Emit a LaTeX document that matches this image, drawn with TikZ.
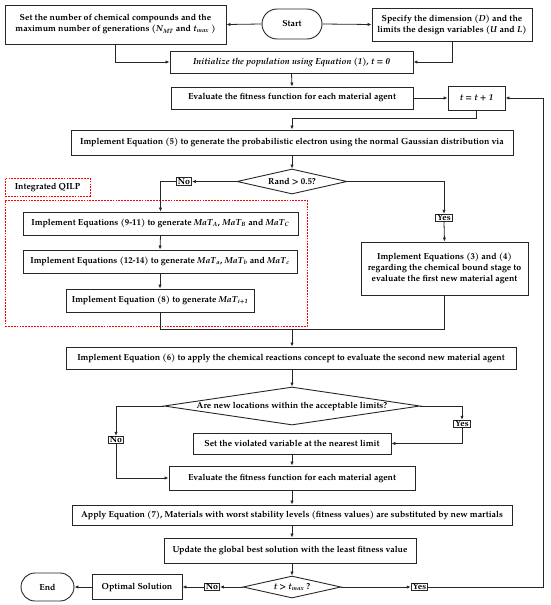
\documentclass[tikz,border=0pt]{standalone}
\usepackage{fontspec}
\setmainfont{TeX Gyre Pagella}
\usetikzlibrary{shapes.geometric,calc,arrows.meta}

\newcommand{\flowfont}{\fontsize{8.8}{11}\selectfont\bfseries}
\tikzset{
  line/.style={line width=0.8pt, black!85},
  arr/.style={line, -{Latex[length=4pt,width=3.4pt]}},
  box/.style={draw=black!85, line width=0.9pt, align=center, inner sep=1pt, font=\flowfont},
  tag/.style={draw=black!85, line width=0.9pt, inner xsep=1.5pt, inner ysep=0.6pt, font=\flowfont},
  decision/.style={diamond, draw=black!85, line width=0.9pt, inner sep=0pt, font=\flowfont},
  terminal/.style={draw=black!85, line width=0.9pt, font=\flowfont},
  qilp/.style={draw=red, line width=1pt, dash pattern=on 1.8pt off 1.1pt}
}

\begin{document}
\begin{tikzpicture}[x=1pt,y=-1pt]
  \useasboundingbox (0,0) rectangle (550,605);

  %integrated QILP zone
  \node[qilp, minimum width=302pt, minimum height=126pt] (qilpzone) at (156,263) {};
  \node[qilp, minimum width=85pt, minimum height=18pt, font=\flowfont] (qilplabel) at (47.5,187) {Integrated QILP};

  %top row
  \node[terminal, rounded corners=15pt, minimum width=60pt, minimum height=30pt] (start) at (292,24) {Start};
  \node[box, minimum width=221pt, minimum height=39pt] (setnum) at (115.5,24.5) {Set the number of chemical compounds and the\\maximum number of generations (\textit{N}\textsubscript{\textit{MT}} and \textit{t}\textsubscript{\textit{max}} )};
  \node[box, minimum width=160pt, minimum height=33pt] (dims) at (452,24.5) {Specify the dimension (\textit{D}) and the\\limits the design variables (\textit{U} and \textit{L})};
  \node[box, minimum width=243pt, minimum height=22pt] (init) at (291.5,62) {\textit{Initialize the population using Equation (1), t = 0}};
  \node[box, minimum width=242pt, minimum height=22pt] (evalA) at (292,98) {Evaluate the fitness function for each material agent};
  \node[box, minimum width=57pt, minimum height=24pt] (tinc) at (476.5,98) {\textit{t = t + 1}};
  \node[box, minimum width=442pt, minimum height=25pt] (eqfive) at (292,142.5) {Implement Equation (5) to generate the probabilistic electron using the normal Gaussian distribution via};
  \node[decision, shape aspect=4.4, minimum width=110pt, minimum height=25pt] (rand) at (292,181.5) {Rand > 0.5?};
  \node[tag] (noA) at (184,181.5) {No};
  \node[tag] (yesA) at (444,218) {Yes};

  %QILP branch
  \node[box, minimum width=275pt, minimum height=23pt] (eqnine) at (160.5,223.5) {Implement Equations (9-11) to generate \textit{MaT}\textsubscript{\textit{A}}, \textit{MaT}\textsubscript{\textit{B}} and \textit{MaT}\textsubscript{\textit{C}}};
  \node[box, minimum width=274pt, minimum height=23pt] (eqtwelve) at (160,261.5) {Implement Equations (12-14) to generate \textit{MaT}\textsubscript{\textit{a}}, \textit{MaT}\textsubscript{\textit{b}} and \textit{MaT}\textsubscript{\textit{c}}};
  \node[box, minimum width=188pt, minimum height=23pt] (eqeight) at (160,300.5) {Implement Equation (8) to generate \textit{MaT}\textsubscript{\textit{i+1}}};
  \node[box, minimum width=167pt, minimum height=53pt] (eqthree) at (444.5,268.5) {Implement Equations (3) and (4)\\regarding the chemical bound stage to\\evaluate the first new material agent};
  \coordinate (merge) at (292,329);

  %lower part
  \node[box, minimum width=450pt, minimum height=22pt] (eqsix) at (291,358) {Implement Equation (6) to apply the chemical reactions concept to evaluate the second new material agent};
  \node[decision, shape aspect=6.7, minimum width=256pt, minimum height=38pt] (limits) at (292,406) {Are new locations within the acceptable limits?};
  \node[tag] (noB) at (116,440) {No};
  \node[tag] (yesB) at (462,424) {Yes};
  \node[box, minimum width=198pt, minimum height=21pt] (violate) at (292,443.5) {Set the violated variable at the nearest limit};
  \node[box, minimum width=246pt, minimum height=24pt] (evalB) at (292,478) {Evaluate the fitness function for each material agent};
  \node[box, minimum width=440pt, minimum height=20pt] (apply) at (292,515) {Apply Equation (7), Materials with worst stability levels (fitness values) are substituted by new martials};
  \node[box, minimum width=252pt, minimum height=25pt] (update) at (290,550.5) {Update the global best solution with the least fitness value};
  \node[decision, shape aspect=4.45, minimum width=98pt, minimum height=22pt] (tmax) at (292,587) {\textit{t > t}\textsubscript{\textit{max}} ?};
  \node[tag] (noC) at (212,587) {No};
  \node[tag] (yesC) at (419.5,587) {Yes};
  \node[box, minimum width=90pt, minimum height=25pt] (optimal) at (137,587) {Optimal Solution};
  \node[terminal, rounded corners=14pt, minimum width=53pt, minimum height=28pt] (finish) at (47.5,587) {End};
  \coordinate (loopup) at (543,98);

  %connectors
  \draw[arr] (start.west) -- (setnum.east);
  \draw[arr] (start.east) -- (dims.west);
  \draw[arr] (setnum.south) |- (init.west);
  \draw[arr] (dims.south) |- (init.east);
  \draw[arr] (init.south) -- (evalA.north);
  \draw[arr] (evalA.east) -- (tinc.west);
  \draw[arr] (tinc.south) -- ++(0,8) -| (eqfive.north);
  \draw[arr] (eqfive.south) -- (rand.north);
  \draw[arr] (rand.west) -- (noA.east);
  \draw[arr] (noA.west) -| (eqnine.north);
  \draw[arr] (eqnine.south) -- (eqtwelve.north);
  \draw[arr] (eqtwelve.south) -- (eqeight.north);
  \draw[arr] (rand.east) -| (yesA.north);
  \draw[arr] (yesA.south) -- (eqthree.north);
  \draw[line] (eqthree.south) |- (merge);
  \draw[arr] (eqeight.south) |- (merge) -- (eqsix.north -| merge);
  \draw[arr] (eqsix.south -| limits.north) -- (limits.north);
  \draw[arr] (limits.west) -| (noB.north);
  \draw[arr] (limits.east) -| (yesB.north);
  \draw[arr] (yesB.south) |- (violate.east);
  \draw[arr] (noB.south) |- (evalB.west);
  \draw[arr] (violate.south) -- (evalB.north);
  \draw[arr] (evalB.south) -- (apply.north);
  \draw[arr] (apply.south) -- (apply.south |- update.north);
  \draw[arr] (update.south -| tmax.north) -- (tmax.north);
  \draw[arr] (tmax.west) -- (noC.east);
  \draw[arr] (noC.west) -- (optimal.east);
  \draw[arr] (optimal.west) -- (finish.east);
  \draw[arr] (tmax.east) -- (yesC.west);
  \draw[arr] (yesC.east) -| (loopup) -- (tinc.east);
\end{tikzpicture}
\end{document}
